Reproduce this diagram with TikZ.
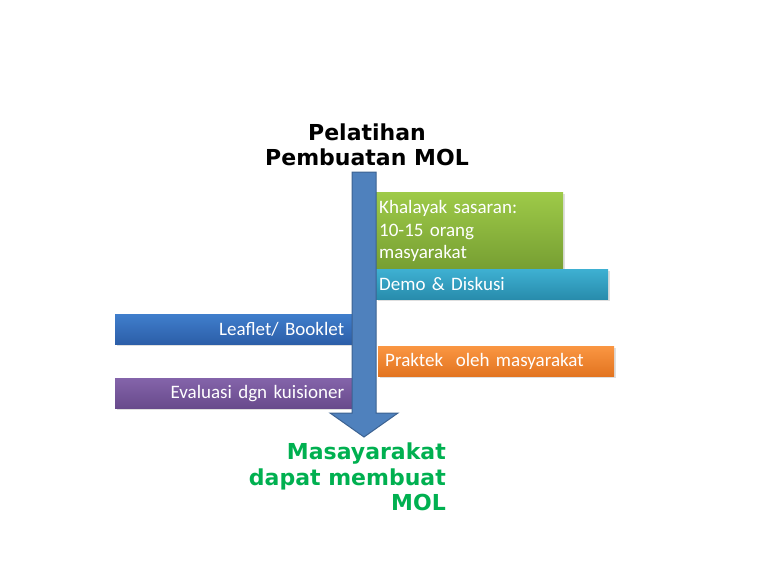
\documentclass[tikz,border=0pt]{standalone}
\usepackage{fontspec}
\setmainfont{Carlito}[WordSpace=0.85]
\newfontfamily\headfont{DejaVu Sans}
\usetikzlibrary{positioning,shadows,calc}
\definecolor{arrowblue}{RGB}{79,129,189}
\definecolor{arrowedge}{RGB}{60,98,145}
\definecolor{resultgreen}{RGB}{0,176,80}
\definecolor{greentop}{RGB}{158,202,72}
\definecolor{greenbot}{RGB}{118,158,50}
\definecolor{cyantop}{RGB}{62,176,210}
\definecolor{cyanbot}{RGB}{40,140,172}
\definecolor{bluetop}{RGB}{64,126,204}
\definecolor{bluebot}{RGB}{44,94,168}
\definecolor{orangetop}{RGB}{250,150,66}
\definecolor{orangebot}{RGB}{226,116,32}
\definecolor{purpletop}{RGB}{132,100,170}
\definecolor{purplebot}{RGB}{104,74,140}

\begin{document}
\begin{tikzpicture}[
  x=1pt, y=-1pt,
  every node/.style={inner sep=0pt},
  bar/.style={minimum height=30pt, inner ysep=0pt, text=white,
    font=\fontsize{19}{22.5}\selectfont,
    drop shadow={shadow xshift=1.5pt, shadow yshift=-1.5pt, opacity=0.25}},
  headtext/.style={font=\headfont\bfseries\fontsize{22}{25}\selectfont, align=center},
  resulttext/.style={font=\headfont\bfseries\fontsize{22}{25.5}\selectfont, align=right, text=resultgreen}
]
  % canvas
  \useasboundingbox (0,0) rectangle (768,576);

  % Start and goal
  \node[headtext] (title) at (367,145) {Pelatihan\\Pembuatan MOL};
  \node[resulttext, anchor=north east] (result) at (446,443) {Masayarakat\\dapat membuat\\MOL};

  % Left side bars
  \node[bar, anchor=north west, top color=bluetop, bottom color=bluebot,
    inner xsep=8pt, text width=221pt, align=right] (leaflet) at (115,314) {Leaflet/ Booklet};
  \node[bar, anchor=north west, top color=purpletop, bottom color=purplebot,
    inner xsep=8pt, text width=221pt, align=right] (evaluasi) at (115,378) {Evaluasi dgn kuisioner};

  % Right side bars
  \node[bar, anchor=north west, top color=greentop, bottom color=greenbot,
    minimum height=78pt, inner xsep=3pt, text width=181pt, align=left] (khalayak) at (376,192)
    {Khalayak sasaran:\\10-15 orang\\masyarakat};
  \node[bar, anchor=north west, top color=cyantop, bottom color=cyanbot,
    inner xsep=3pt, text width=226pt, align=left] (demo) at (376,269) {Demo \& Diskusi};
  \node[bar, anchor=north west, top color=orangetop, bottom color=orangebot,
    inner xsep=7pt, text width=222pt, align=left] (praktek) at (378,346) {Praktek\ \ oleh masyarakat};

  % Down arrow from training to result
  \coordinate (shafttop) at (364,172);
  \coordinate (tip) at (364,437);
  \draw[fill=arrowblue, draw=arrowedge, line width=1pt, line join=miter]
    ($(shafttop)+(-12,0)$) -- ($(shafttop)+(12,0)$) -- ($(tip)+(12,-24)$) -- ($(tip)+(34,-24)$)
    -- (tip) -- ($(tip)+(-34,-24)$) -- ($(tip)+(-12,-24)$) -- cycle;
\end{tikzpicture}
\end{document}
